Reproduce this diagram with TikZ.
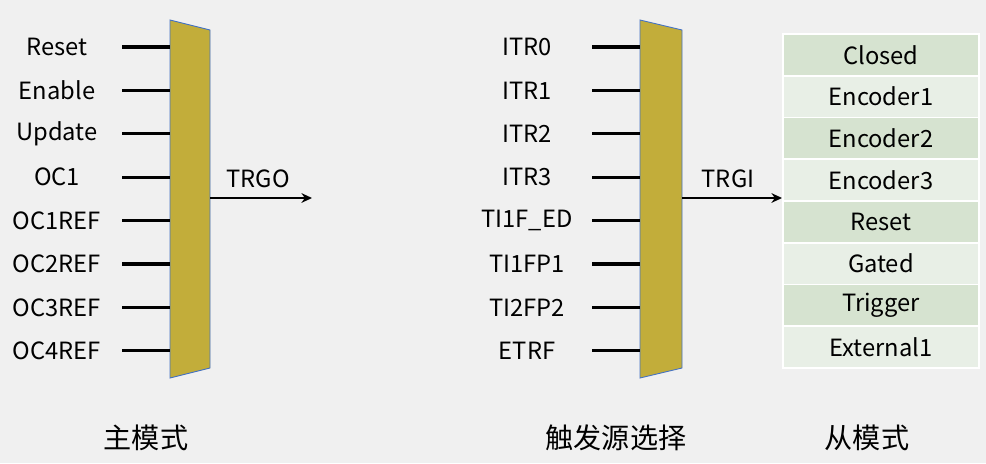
\documentclass[tikz,border=0pt]{standalone}
\usepackage{fontspec}
\setmainfont{Noto Sans CJK SC}
\usetikzlibrary{arrows.meta}
\definecolor{bg}{HTML}{F0F0F0}
\definecolor{mux}{HTML}{C2AD3A}
\definecolor{muxb}{HTML}{4472C4}
\definecolor{rowa}{HTML}{D6E3D0}
\definecolor{rowb}{HTML}{E8EFE6}
\tikzset{
  lbl/.style={font=\fontsize{13.5}{15}\selectfont, inner sep=0pt},
  captxt/.style={font=\fontsize{16}{18}\selectfont, inner sep=0pt},
  inl/.style={line width=1.8pt, black},
  outl/.style={line width=1.5pt, -{Stealth[length=6pt,width=5.5pt]}},
  muxs/.style={fill=mux, draw=muxb, line width=0.5pt},
  cell/.style={draw=white, line width=1pt, minimum width=196*0.02cm, minimum height=41.75*0.02cm, anchor=north west, inner sep=0pt, font=\fontsize{13.5}{15}\selectfont}
}
\begin{document}
\begin{tikzpicture}[x=0.02cm,y=-0.02cm]
\fill[bg] (0,0) rectangle (986,463);
\useasboundingbox (0,0) rectangle (986,463);
% mux 1
\draw[muxs] (170,20) -- (210,30) -- (210,368) -- (170,378) -- cycle;
\coordinate (m1) at (210,198);
\foreach \t [count=\i from 0] in {Reset,Enable,Update,OC1,OC1REF,OC2REF,OC3REF,OC4REF}{
  \coordinate (a\i) at (122,{47+\i*43.4});
  \coordinate (b\i) at (170,{47+\i*43.4});
  \draw[inl] (a\i) -- (b\i);
  \node[lbl] (la\i) at (57,{47+\i*43.4}) {\t};
}
\coordinate (o1) at (312,198);
\draw[outl] (m1) -- (o1);
\node[lbl] (trgo) at (258,179) {TRGO};
% mux 2
\draw[muxs] (640,20) -- (682,30) -- (682,368) -- (640,378) -- cycle;
\coordinate (m2) at (682,198);
\coordinate (t2) at (782,198);
\foreach \t [count=\i from 0] in {ITR0,ITR1,ITR2,ITR3,TI1F\_ED,TI1FP1,TI2FP2,ETRF}{
  \coordinate (c\i) at (592,{47+\i*43.4});
  \coordinate (d\i) at (640,{47+\i*43.4});
  \draw[inl] (c\i) -- (d\i);
  \node[lbl] (lc\i) at (527,{47+\i*43.4}) {\t};
}
% table
\foreach \t/\c [count=\i from 0] in {Closed/rowa,Encoder1/rowb,Encoder2/rowa,Encoder3/rowb,Reset/rowa,Gated/rowb,Trigger/rowa,External1/rowb}{
  \node[cell, fill=\c] (r\i) at (782,{33+\i*41.75}) {\t};
}
\draw[outl] (m2) -- (t2);
\node[lbl] (trgi) at (728,179) {TRGI};
% captions
\node[captxt] (c1) at (146,438) {主模式};
\node[captxt] (c2) at (616,438) {触发源选择};
\node[captxt] (c3) at (867,438) {从模式};
\end{tikzpicture}
\end{document}
